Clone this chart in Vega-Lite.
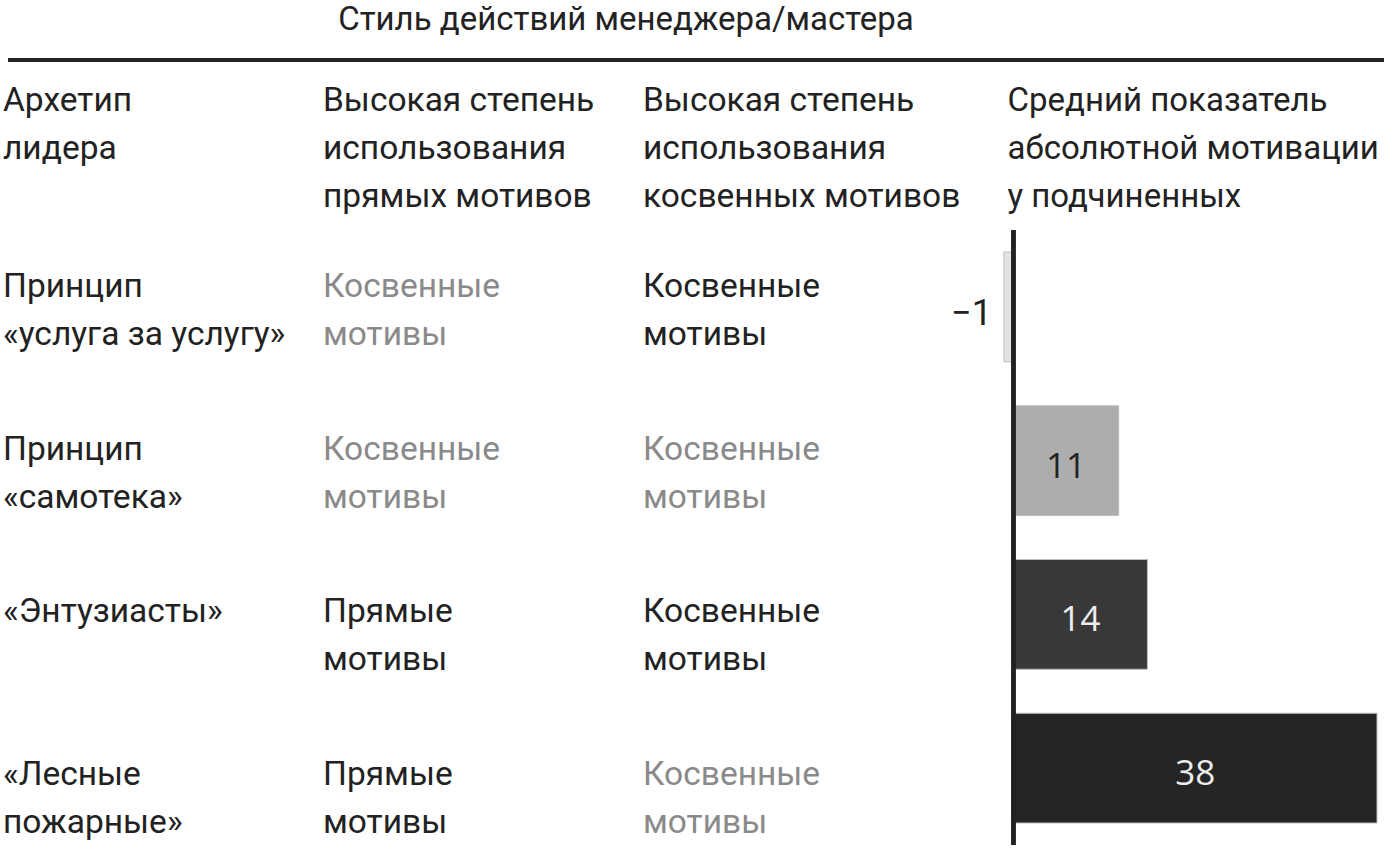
{
  "$schema": "https://vega.github.io/schema/vega-lite/v6.json",
  "padding": {"left": 2, "top": 0, "right": 0, "bottom": 0},
  "background": "white",
  "config": {"view": {"stroke": null}},
  "datasets": {
    "heading": [{"text": "Стиль действий менеджера/мастера"}],
    "cells": [
      {"archetype": "Принцип «услуга за услугу»", "column": "Архетип\nлидера", "text": "Принцип\n«услуга за услугу»", "used": null},
      {"archetype": "Принцип «услуга за услугу»", "column": "Высокая степень\nиспользования\nпрямых мотивов", "text": "Косвенные\nмотивы", "used": false},
      {"archetype": "Принцип «услуга за услугу»", "column": "Высокая степень\nиспользования\nкосвенных мотивов", "text": "Косвенные\nмотивы", "used": true},
      {"archetype": "Принцип «самотека»", "column": "Архетип\nлидера", "text": "Принцип\n«самотека»", "used": null},
      {"archetype": "Принцип «самотека»", "column": "Высокая степень\nиспользования\nпрямых мотивов", "text": "Косвенные\nмотивы", "used": false},
      {"archetype": "Принцип «самотека»", "column": "Высокая степень\nиспользования\nкосвенных мотивов", "text": "Косвенные\nмотивы", "used": false},
      {"archetype": "«Энтузиасты»", "column": "Архетип\nлидера", "text": "«Энтузиасты»", "used": null},
      {"archetype": "«Энтузиасты»", "column": "Высокая степень\nиспользования\nпрямых мотивов", "text": "Прямые\nмотивы", "used": true},
      {"archetype": "«Энтузиасты»", "column": "Высокая степень\nиспользования\nкосвенных мотивов", "text": "Косвенные\nмотивы", "used": true},
      {"archetype": "«Лесные пожарные»", "column": "Архетип\nлидера", "text": "«Лесные\nпожарные»", "used": null},
      {"archetype": "«Лесные пожарные»", "column": "Высокая степень\nиспользования\nпрямых мотивов", "text": "Прямые\nмотивы", "used": true},
      {"archetype": "«Лесные пожарные»", "column": "Высокая степень\nиспользования\nкосвенных мотивов", "text": "Косвенные\nмотивы", "used": false}
    ],
    "motivation": [
      {"archetype": "Принцип «услуга за услугу»", "value": -1},
      {"archetype": "Принцип «самотека»", "value": 11},
      {"archetype": "«Энтузиасты»", "value": 14},
      {"archetype": "«Лесные пожарные»", "value": 38}
    ]
  },
  "bounds": "flush",
  "spacing": 170,
  "vconcat": [
    {
      "width": 1376,
      "height": 60,
      "data": {"name": "heading"},
      "layer": [
        {
          "mark": {"type": "text", "font": "Roboto", "fontSize": 33, "color": "#222222", "align": "center", "baseline": "alphabetic", "dx": -70},
          "encoding": {"text": {"field": "text", "type": "nominal"}}
        },
        {
          "mark": {"type": "rule", "color": "#222222", "strokeWidth": 4},
          "encoding": {"y": {"value": "height"}}
        }
      ]
    },
    {
      "bounds": "flush",
      "spacing": 34,
      "hconcat": [
        {
          "width": 960,
          "height": 615,
          "data": {"name": "cells"},
          "mark": {"type": "text", "align": "left", "baseline": "top", "font": "Roboto", "fontSize": 33.5, "lineHeight": 48, "lineBreak": "\n", "dx": -5},
          "encoding": {
            "x": {
              "field": "column", "type": "nominal", "bandPosition": 0,
              "scale": {"type": "band", "domain": ["Архетип\nлидера", "Высокая степень\nиспользования\nпрямых мотивов", "Высокая степень\nиспользования\nкосвенных мотивов"], "paddingInner": 0, "paddingOuter": 0},
              "axis": {"orient": "top", "title": null, "domain": false, "ticks": false, "tickSize": 0, "grid": false, "labelAngle": 0, "labelAlign": "left", "labelBaseline": "top", "labelPadding": 146, "labelOffset": -165, "labelFont": "Roboto", "labelFontSize": 33.5, "labelColor": "#222222", "labelLineHeight": 48, "labelLimit": 600, "labelOverlap": false, "labelBound": false, "labelFlush": false, "labelExpr": "split(datum.label, '\\n')"}
            },
            "y": {
              "field": "archetype", "type": "nominal", "bandPosition": 0,
              "scale": {"type": "band", "domain": ["Принцип «услуга за услугу»", "Принцип «самотека»", "«Энтузиасты»", "«Лесные пожарные»"], "paddingInner": 0.724, "paddingOuter": 0.2555},
              "axis": null
            },
            "text": {"field": "text", "type": "nominal"},
            "color": {"condition": {"test": "datum.used === false", "value": "#8a8a8a"}, "value": "#222222"}
          }
        },
        {
          "width": 375,
          "height": 615,
          "data": {"name": "motivation"},
          "layer": [
            {
              "mark": {"type": "bar", "stroke": "#bdbdbd", "strokeWidth": 1},
              "encoding": {
                "y": {
                  "field": "archetype", "type": "nominal",
                  "scale": {"domain": ["Принцип «услуга за услугу»", "Принцип «самотека»", "«Энтузиасты»", "«Лесные пожарные»"], "paddingInner": 0.286, "paddingOuter": 0.143},
                  "axis": null
                },
                "x": {
                  "field": "value", "type": "quantitative",
                  "scale": {"domain": [-1.2, 38], "nice": false, "zero": false},
                  "axis": {"orient": "top", "title": ["Средний показатель", "абсолютной мотивации", "у подчиненных"], "labels": false, "ticks": false, "domain": false, "grid": false, "titleFont": "Roboto", "titleFontSize": 33, "titleFontWeight": "normal", "titleColor": "#222222", "titleAnchor": "start", "titleAlign": "left", "titleBaseline": "top", "titleLineHeight": 48, "titleX": 5, "titleY": -146}
                },
                "color": {
                  "field": "archetype", "type": "nominal",
                  "scale": {"domain": ["Принцип «услуга за услугу»", "Принцип «самотека»", "«Энтузиасты»", "«Лесные пожарные»"], "range": ["#e3e3e3", "#adadad", "#383838", "#252525"]},
                  "legend": null
                }
              }
            },
            {
              "mark": {"type": "rule", "color": "#222222", "strokeWidth": 4},
              "encoding": {"x": {"datum": 0, "type": "quantitative"}}
            },
            {
              "transform": [{"filter": "datum.value > 0"}],
              "mark": {"type": "text", "font": "Open Sans", "fontSize": 35, "dy": 6, "align": "center"},
              "encoding": {
                "y": {"field": "archetype", "type": "nominal"},
                "x": {"field": "value", "type": "quantitative", "stack": "zero", "bandPosition": 0.5},
                "text": {"field": "value", "type": "quantitative"},
                "color": {"condition": {"test": "datum.value > 12", "value": "#ececec"}, "value": "#222222"}
              }
            },
            {
              "transform": [{"filter": "datum.value < 0"}],
              "mark": {"type": "text", "font": "Roboto", "fontSize": 36, "align": "right", "dx": -12, "dy": 7, "color": "#222222"},
              "encoding": {
                "y": {"field": "archetype", "type": "nominal"},
                "x": {"field": "value", "type": "quantitative"},
                "text": {"field": "value", "type": "quantitative"}
              }
            }
          ]
        }
      ]
    }
  ]
}
